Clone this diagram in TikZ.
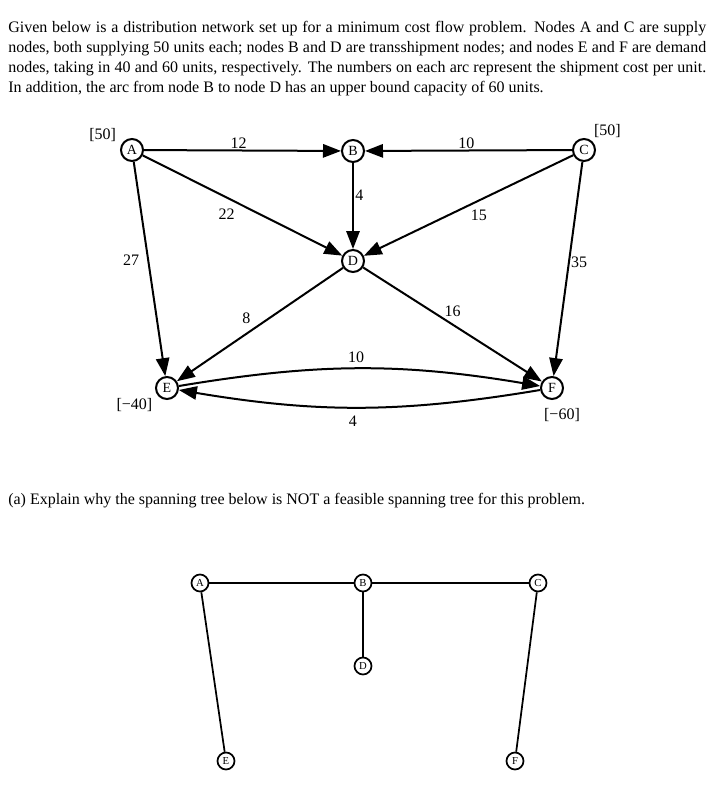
\documentclass[tikz,border=0pt]{standalone}
\usepackage{fontspec}
\setmainfont{Liberation Serif}
\usetikzlibrary{arrows.meta,positioning}

\begin{document}
\begin{tikzpicture}[
        x=0.75pt, y=-0.75pt,
        every node/.style={font=\fontsize{12}{14.5}\selectfont},
        vertex/.style={draw, circle, line width=1.5pt, minimum size=16.5pt, inner sep=0pt, font=\fontsize{10.5}{10.5}\selectfont},
        tvertex/.style={draw, circle, line width=1.3pt, minimum size=12.75pt, inner sep=0pt, font=\fontsize{8}{8}\selectfont},
        arc/.style={draw, line width=1.5pt, -{Triangle[length=13.5pt, width=10pt]}},
        cost/.style={inner sep=1pt},
        supply/.style={inner sep=1pt},
        tree/.style={draw, line width=1.3pt}
    ]
    \useasboundingbox (0,0) rectangle (714,785);

    \node[anchor=north west, inner sep=0pt, text width=523.5pt, align=justify, font=\fontsize{12}{15}\selectfont] (intro) at (8,21) {Given below is a distribution network set up for a minimum cost flow problem. Nodes A and C are supply\linebreak
        nodes, both supplying 50 units each; nodes B and D are transshipment nodes; and nodes E and F are demand\linebreak
        nodes, taking in 40 and 60 units, respectively. The numbers on each arc represent the shipment cost per unit.\linebreak
        In addition, the arc from node B to node D has an upper bound capacity of 60 units.};

    % network
    \node[vertex] (A) at (132,150) {A};
    \node[vertex] (B) at (353,151) {B};
    \node[vertex] (C) at (584,150) {C};
    \node[vertex] (D) at (353,261) {D};
    \node[vertex] (E) at (167,388) {E};
    \node[vertex] (F) at (552,388) {F};

    \node[supply, above left=-1.5pt and 4.4pt of A] (sA) {[50]};
    \node[supply, above right=2pt and 0pt of C] (sC) {[50]};
    \node[supply, below left=0.5pt and 3.5pt of E] (dE) {[−40]};
    \node[supply, below=5pt of F, xshift=7.5pt] (dF) {[−60]};

    \draw[arc] (A) -- node[cost, pos=0.48, above] {12} (B);
    \draw[arc] (C) -- node[cost, pos=0.51, above] {10} (B);
    \draw[arc] (B) -- node[cost, pos=0.38, right] {4} (D);
    \draw[arc] (A) -- node[cost, pos=0.42, below=6.5pt] {22} (D);
    \draw[arc] (C) -- node[cost, pos=0.45, below=5.5pt] {15} (D);
    \draw[arc] (A) -- node[cost, pos=0.46, left=5pt] {27} (E);
    \draw[arc] (C) -- node[cost, pos=0.47, right=0pt] {35} (F);
    \draw[arc] (D) -- node[cost, pos=0.53, above left=2.4pt] {8} (E);
    \draw[arc] (D) -- node[cost, pos=0.5, above=4pt] {16} (F);
    \draw[arc] (E) to[bend left=9.5] node[cost, pos=0.49, above=3pt] {10} (F);
    \draw[arc] (F) to[bend left=9.5] node[cost, pos=0.52, below=5pt] {4} (E);

    \node[anchor=base west, inner sep=0pt] (question) at (8,504) {(a) Explain why the spanning tree below is NOT a feasible spanning tree for this problem.};

    % spanning tree
    \node[tvertex] (tA) at (200,583) {A};
    \node[tvertex] (tB) at (363,583) {B};
    \node[tvertex] (tC) at (538,583) {C};
    \node[tvertex] (tD) at (363,666) {D};
    \node[tvertex] (tE) at (226,761) {E};
    \node[tvertex] (tF) at (515,761) {F};

    \draw[tree] (tA) -- (tB) -- (tC);
    \draw[tree] (tB) -- (tD);
    \draw[tree] (tA) -- (tE);
    \draw[tree] (tC) -- (tF);
\end{tikzpicture}
\end{document}
